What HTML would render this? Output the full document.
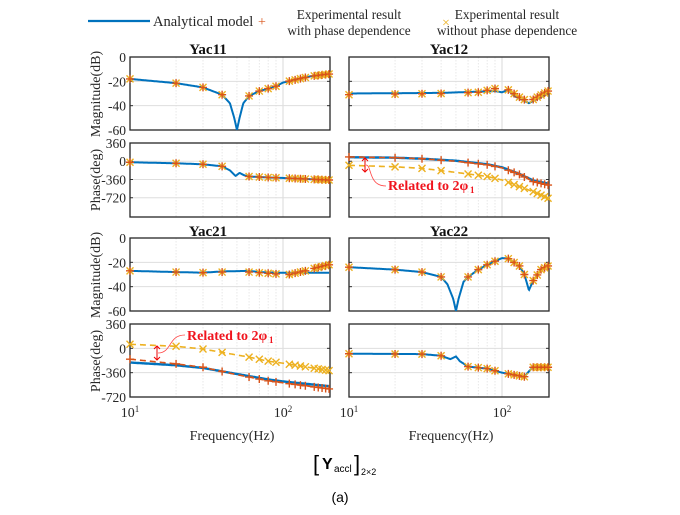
<!DOCTYPE html>
<html><head><meta charset="utf-8"><style>
body{margin:0;background:#fff;width:680px;height:510px;overflow:hidden}
text{font-family:"Liberation Serif",serif;fill:#262626}
</style></head><body>
<svg id="s" width="680" height="510" xmlns="http://www.w3.org/2000/svg">
<line x1="88" y1="21" x2="150" y2="21" stroke="#0072bd" stroke-width="2.2"/>
<text x="153" y="26" font-size="14.5">Analytical model</text>
<text x="262" y="26" font-size="14" style="fill:#d95319" text-anchor="middle">+</text>
<text x="349" y="19" font-size="13.3" text-anchor="middle">Experimental result</text>
<text x="349" y="35" font-size="13.3" text-anchor="middle">with phase dependence</text>
<text x="446" y="27" font-size="14" style="fill:#edb120" text-anchor="middle">×</text>
<text x="507" y="19" font-size="13.3" text-anchor="middle">Experimental result</text>
<text x="507" y="35" font-size="13.3" text-anchor="middle">without phase dependence</text>
<text x="208" y="54" font-size="15" font-weight="bold" text-anchor="middle" style="fill:#111">Yac11</text>
<text x="449" y="54" font-size="15" font-weight="bold" text-anchor="middle" style="fill:#111">Yac12</text>
<text x="208" y="236" font-size="15" font-weight="bold" text-anchor="middle" style="fill:#111">Yac21</text>
<text x="449" y="236" font-size="15" font-weight="bold" text-anchor="middle" style="fill:#111">Yac22</text>
<text transform="translate(100,94) rotate(-90)" font-size="14" text-anchor="middle">Magnitude(dB)</text>
<text transform="translate(100,180) rotate(-90)" font-size="14" text-anchor="middle">Phase(deg)</text>
<text transform="translate(100,275) rotate(-90)" font-size="14" text-anchor="middle">Magnitude(dB)</text>
<text transform="translate(100,361) rotate(-90)" font-size="14" text-anchor="middle">Phase(deg)</text>
<text x="232" y="440" font-size="14" text-anchor="middle">Frequency(Hz)</text>
<text x="451" y="440" font-size="14" text-anchor="middle">Frequency(Hz)</text>
<text x="130" y="417" font-size="14" text-anchor="middle">10<tspan dy="-5" font-size="9">1</tspan></text>
<text x="283" y="417" font-size="14" text-anchor="middle">10<tspan dy="-5" font-size="9">2</tspan></text>
<text x="349" y="417" font-size="14" text-anchor="middle">10<tspan dy="-5" font-size="9">1</tspan></text>
<text x="502" y="417" font-size="14" text-anchor="middle">10<tspan dy="-5" font-size="9">2</tspan></text>
<text x="313" y="471" font-size="22" style="fill:#000;font-family:'Liberation Sans',sans-serif">[</text>
<text x="322" y="469" font-size="16" font-weight="bold" style="fill:#000;font-family:'Liberation Sans',sans-serif">Y</text>
<text x="334" y="472" font-size="10" style="fill:#000;font-family:'Liberation Sans',sans-serif">accl</text>
<text x="354" y="471" font-size="22" style="fill:#000;font-family:'Liberation Sans',sans-serif">]</text>
<text x="361" y="475" font-size="9" style="fill:#000;font-family:'Liberation Sans',sans-serif">2×2</text>
<text x="340" y="502" font-size="14" text-anchor="middle" style="fill:#000;font-family:'Liberation Sans',sans-serif">(a)</text>
<g id="g"></g>
</svg>
<script>
var NS="http://www.w3.org/2000/svg",G=document.getElementById('g');
function el(t,a){var e=document.createElementNS(NS,t);for(var k in a)e.setAttribute(k,a[k]);G.appendChild(e);return e}
function txt(x,y,s,a,fs,fill,bold){var e=el('text',{x:x,y:y,'font-size':fs||12,'text-anchor':a||'end'});if(fill)e.style.fill=fill;if(bold)e.setAttribute('font-weight','bold');e.textContent=s;return e}
var D=153;
function X(x0,f){return x0+Math.log10(f/10)*D}
function interp(arr,f){var lf=Math.log10(f);for(var i=0;i<arr.length-1;i++){var a=arr[i],b=arr[i+1];if(f>=a[0]&&f<=b[0]){var t=(lf-Math.log10(a[0]))/(Math.log10(b[0])-Math.log10(a[0]));return a[1]+t*(b[1]-a[1]);}}return arr[arr.length-1][1]}
var MF=[10,20,30,40,60,70,80,90,110,120,130,140,160,170,180,190,200];
function panel(x0,y0,h,vmax,vmin,ticks,ticklabels){
 var w=200;
 function Y(v){return y0+(vmax-v)/(vmax-vmin)*h}
 for(var d=1;d<=2;d++)for(var m=1;m<=9;m++){var f=m*Math.pow(10,d);if(f<=10||f>=200)continue;var x=X(x0,f);
  el('line',{x1:x,y1:y0,x2:x,y2:y0+h,stroke:m==1?'#d8d8d8':'#e2e2e2','stroke-width':m==1?1:0.8,'stroke-dasharray':m==1?'':'1.5,1.5'});}
 ticks.forEach(function(v,i){var y=Y(v);if(y>y0+1&&y<y0+h-1)el('line',{x1:x0,y1:y,x2:x0+w,y2:y,stroke:'#dedede','stroke-width':1});
   if(ticklabels)txt(x0-4,y+5,ticklabels[i],'end',13.5);
   el('line',{x1:x0,y1:y,x2:x0+3,y2:y,stroke:'#333'});el('line',{x1:x0+w,y1:y,x2:x0+w-3,y2:y,stroke:'#333'});});
 el('rect',{x:x0,y:y0,width:w,height:h,fill:'none',stroke:'#262626','stroke-width':1.3});
 return Y;
}
function curve(x0,Y,arr,col,dash,wd){var p='';for(var i=0;i<=400;i++){var f=10*Math.pow(20,i/400);p+=(i?'L':'M')+X(x0,f).toFixed(1)+','+Y(interp(arr,f)).toFixed(1);}
 el('path',{d:p,fill:'none',stroke:col,'stroke-width':wd||2,'stroke-dasharray':dash||''});}
function plus(x,y){el('path',{d:'M'+(x-4)+','+y+'h8M'+x+','+(y-4)+'v8',stroke:'#d95319','stroke-width':1.4})}
function cross(x,y){el('path',{d:'M'+(x-3.5)+','+(y-3.5)+'l7,7M'+(x-3.5)+','+(y+3.5)+'l7,-7',stroke:'#edb120','stroke-width':1.4})}
function marks(x0,Y,arrP,arrX){MF.forEach(function(f){var x=X(x0,f);cross(x,Y(interp(arrX,f)));plus(x,Y(interp(arrP,f)));});}
var magT=[0,-20,-40,-60],magL=['0','-20','-40','-60'];
var phT=[360,0,-360,-720],phL=['360','0','-360','-720'];
var m11=[[10,-18],[20,-21.5],[30,-25],[40,-31],[45,-38],[48,-50],[50,-60],[52,-50],[55,-38],[60,-32],[70,-28],[80,-26],[90,-24],[100,-21],[150,-16],[200,-14]];
var p11=[[10,-20],[20,-40],[30,-60],[40,-100],[45,-180],[49,-290],[52,-230],[56,-280],[60,-300],[80,-320],[100,-330],[200,-370]];
var m12=[[10,-30],[40,-29.5],[70,-28.5],[90,-28],[100,-29],[110,-27],[120,-32],[140,-36],[150,-38],[160,-36],[200,-30]];
var m12e=[[10,-31],[40,-30],[70,-29],[90,-26],[110,-27],[130,-33],[150,-37],[170,-33],[200,-28]];
var p12=[[10,80],[20,70],[30,50],[50,10],[80,-60],[100,-120],[130,-250],[160,-380],[200,-440]];
var p12e=[[10,85],[20,70],[30,50],[50,0],[80,-70],[100,-130],[130,-260],[160,-400],[200,-470]];
var p12x=[[10,-80],[20,-110],[30,-140],[50,-220],[80,-300],[100,-370],[130,-500],[160,-600],[200,-730]];
var m21=[[10,-27],[20,-28],[30,-28.5],[40,-27.5],[60,-27],[70,-28],[90,-28.5],[110,-28.5],[200,-28.5]];
var m21e=[[10,-27],[20,-28],[30,-28.5],[40,-28],[60,-28],[80,-29],[90,-29.5],[110,-30],[140,-27],[160,-25],[200,-22]];
var p21=[[10,-210],[20,-250],[30,-290],[50,-380],[80,-460],[100,-490],[200,-560]];
var p21e=[[10,-160],[20,-230],[30,-280],[50,-390],[80,-480],[100,-510],[200,-600]];
var p21x=[[10,60],[20,30],[30,-10],[40,-60],[60,-130],[80,-190],[100,-220],[200,-330]];
var m22=[[10,-24],[20,-26],[30,-28],[40,-32],[44,-38],[48,-50],[50,-60],[52,-50],[56,-36],[60,-32],[70,-26],[80,-22],[100,-16.5],[110,-17],[130,-23],[140,-30],[150,-43],[160,-35],[180,-26],[200,-23]];
var p22=[[10,-80],[30,-85],[40,-110],[46,-160],[50,-120],[53,-190],[60,-270],[80,-300],[100,-360],[140,-420],[150,-340],[160,-280],[200,-280]];
var Y;
Y=panel(130,57,73,0,-60,magT,magL);curve(130,Y,m11,'#0072bd');marks(130,Y,m11,m11);
Y=panel(130,143,74,360,-1100,phT,phL);curve(130,Y,p11,'#0072bd');marks(130,Y,p11,p11);
Y=panel(349,57,73,0,-60,magT,null);curve(349,Y,m12,'#0072bd');marks(349,Y,m12e,m12e);
Y=panel(349,143,74,360,-1100,phT,null);
curve(349,Y,p12x,'#edb120','6,4',1.6);curve(349,Y,p12,'#0072bd',null,2.4);curve(349,Y,p12e,'#d95319','6,4',1.6);marks(349,Y,p12e,p12x);
el('path',{d:'M365,158 L365,172 M362,161 L365,158 L368,161 M362,169 L365,172 L368,169',stroke:'#e00',fill:'none','stroke-width':1});
el('path',{d:'M366,165 C372,165 368,186 386,186',stroke:'#f44',fill:'none','stroke-width':0.8});
txt(388,190,'Related to 2φ','start',14,'#f0141e',true);txt(470,193,'1','start',9,'#f0141e',true);
Y=panel(130,238,73,0,-60,magT,magL);curve(130,Y,m21,'#0072bd');marks(130,Y,m21e,m21e);
Y=panel(130,324,73,360,-720,phT,phL);
curve(130,Y,p21x,'#edb120','6,4',1.6);curve(130,Y,p21,'#0072bd',null,2.4);curve(130,Y,p21e,'#d95319','6,4',1.6);marks(130,Y,p21e,p21x);
el('path',{d:'M157,346 L157,360 M154,349 L157,346 L160,349 M154,357 L157,360 L160,357',stroke:'#e00',fill:'none','stroke-width':1});
el('path',{d:'M158,353 C172,353 168,335 185,335',stroke:'#f44',fill:'none','stroke-width':0.8});
txt(187,340,'Related to 2φ','start',14,'#f0141e',true);txt(269,343,'1','start',9,'#f0141e',true);
Y=panel(349,238,73,0,-60,magT,null);curve(349,Y,m22,'#0072bd');marks(349,Y,m22,m22);
Y=panel(349,324,73,360,-720,phT,null);curve(349,Y,p22,'#0072bd');marks(349,Y,p22,p22);
</script>
</body></html>
